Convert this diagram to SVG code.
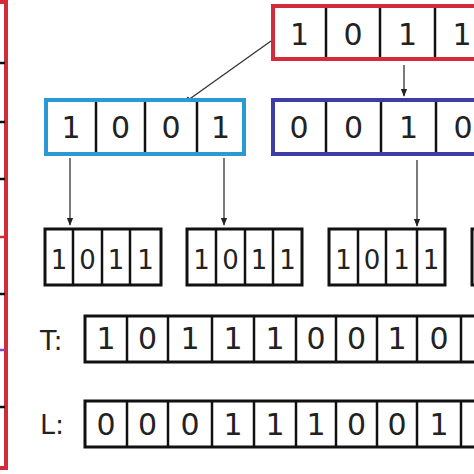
<svg xmlns="http://www.w3.org/2000/svg" width="474" height="474" viewBox="0 0 474 474">
<defs>
<style>
.d{font-family:"DejaVu Sans","Liberation Sans",sans-serif;fill:#222;text-anchor:middle}
.big{font-size:30px}
.sm{font-size:26px}
.lab{font-family:"DejaVu Sans","Liberation Sans",sans-serif;fill:#222;font-size:27px}
.red{fill:#fff;stroke:#d22b3a;stroke-width:4}
.blue{fill:#fff;stroke:#2b9ad4;stroke-width:4}
.pur{fill:#fff;stroke:#3d3da6;stroke-width:4}
.blk{fill:#fff;stroke:#111;stroke-width:3}
.div{stroke:#111;stroke-width:2.5}
.con{stroke:#333;stroke-width:1.3;fill:none}
</style>
<marker id="ah" viewBox="0 0 10 10" refX="9" refY="5" markerWidth="8" markerHeight="8" orient="auto" markerUnits="userSpaceOnUse">
<path d="M0,1 L10,5 L0,9 z" fill="#222"/>
</marker>
</defs>
<rect width="474" height="474" fill="#fff"/>

<g id="leftbar">
<path d="M-2,2 H6 V468 H-2" fill="none" stroke="#d22b3a" stroke-width="4"/>
<g stroke="#111" stroke-width="2.5">
<line x1="0" y1="63" x2="5" y2="63"/>
<line x1="0" y1="122" x2="5" y2="122"/>
<line x1="0" y1="179" x2="5" y2="179"/>
<line x1="0" y1="294" x2="5" y2="294"/>
<line x1="0" y1="407" x2="5" y2="407"/>
</g>
<line x1="0" y1="237" x2="5" y2="237" stroke="#d22b3a" stroke-width="2.5"/>
<line x1="0" y1="350" x2="5" y2="350" stroke="#8a4aa8" stroke-width="2.5"/>
</g>

<g id="connectors">
<line class="con" x1="271" y1="41" x2="184" y2="103" marker-end="url(#ah)"/>
<line class="con" x1="404" y1="65" x2="404" y2="96" marker-end="url(#ah)"/>
<line class="con" x1="70" y1="158" x2="70" y2="225" marker-end="url(#ah)"/>
<line class="con" x1="224" y1="158" x2="224" y2="225" marker-end="url(#ah)"/>
<line class="con" x1="417" y1="160" x2="417" y2="226" marker-end="url(#ah)"/>
</g>

<g id="red-box">
<rect class="red" x="273" y="6" width="230" height="53"/>
<line class="div" x1="326" y1="8" x2="326" y2="57"/>
<line class="div" x1="380" y1="8" x2="380" y2="57"/>
<line class="div" x1="435" y1="8" x2="435" y2="57"/>
<text class="d big" x="299.5" y="45">1</text>
<text class="d big" x="353" y="45">0</text>
<text class="d big" x="407.5" y="45">1</text>
<text class="d big" x="462" y="45">1</text>
</g>

<g id="blue-box">
<rect class="blue" x="46" y="100" width="198" height="54"/>
<line class="div" x1="96" y1="102" x2="96" y2="152"/>
<line class="div" x1="145" y1="102" x2="145" y2="152"/>
<line class="div" x1="197" y1="102" x2="197" y2="152"/>
<text class="d big" x="71" y="138">1</text>
<text class="d big" x="120.5" y="138">0</text>
<text class="d big" x="171" y="138">0</text>
<text class="d big" x="220.5" y="138">1</text>
</g>

<g id="purple-box">
<rect class="pur" x="273" y="100" width="230" height="54"/>
<line class="div" x1="326" y1="102" x2="326" y2="152"/>
<line class="div" x1="381" y1="102" x2="381" y2="152"/>
<line class="div" x1="436" y1="102" x2="436" y2="152"/>
<text class="d big" x="299" y="138">0</text>
<text class="d big" x="353.5" y="138">0</text>
<text class="d big" x="408.5" y="138">1</text>
<text class="d big" x="463" y="138">0</text>
</g>

<g id="small-1">
<rect class="blk" x="45" y="229" width="116" height="56"/>
<line class="div" x1="73" y1="229" x2="73" y2="285"/>
<line class="div" x1="102" y1="229" x2="102" y2="285"/>
<line class="div" x1="130" y1="229" x2="130" y2="285"/>
<text class="d sm" x="59" y="269">1</text>
<text class="d sm" x="87.5" y="269">0</text>
<text class="d sm" x="116" y="269">1</text>
<text class="d sm" x="145.5" y="269">1</text>
</g>

<g id="small-2">
<rect class="blk" x="187" y="229" width="115" height="56"/>
<line class="div" x1="216" y1="229" x2="216" y2="285"/>
<line class="div" x1="245" y1="229" x2="245" y2="285"/>
<line class="div" x1="273" y1="229" x2="273" y2="285"/>
<text class="d sm" x="201.5" y="269">1</text>
<text class="d sm" x="230.5" y="269">0</text>
<text class="d sm" x="259" y="269">1</text>
<text class="d sm" x="287.5" y="269">1</text>
</g>

<g id="small-3">
<rect class="blk" x="329" y="229" width="116" height="56"/>
<line class="div" x1="358" y1="229" x2="358" y2="285"/>
<line class="div" x1="386" y1="229" x2="386" y2="285"/>
<line class="div" x1="417" y1="229" x2="417" y2="285"/>
<text class="d sm" x="343.5" y="269">1</text>
<text class="d sm" x="372" y="269">0</text>
<text class="d sm" x="401.5" y="269">1</text>
<text class="d sm" x="431" y="269">1</text>
</g>

<g id="small-4">
<rect class="blk" x="472" y="229" width="116" height="56" stroke-width="4"/>
</g>

<g id="T-row">
<text class="lab" x="40" y="350">T:</text>
<rect class="blk" x="85" y="316" width="420" height="46"/>
<g class="div">
<line x1="127" y1="316" x2="127" y2="362"/>
<line x1="168" y1="316" x2="168" y2="362"/>
<line x1="212" y1="316" x2="212" y2="362"/>
<line x1="254" y1="316" x2="254" y2="362"/>
<line x1="296" y1="316" x2="296" y2="362"/>
<line x1="336" y1="316" x2="336" y2="362"/>
<line x1="377" y1="316" x2="377" y2="362"/>
<line x1="417" y1="316" x2="417" y2="362"/>
<line x1="461" y1="316" x2="461" y2="362"/>
</g>
<text class="d big" x="106" y="349">1</text>
<text class="d big" x="147.5" y="349">0</text>
<text class="d big" x="190" y="349">1</text>
<text class="d big" x="233" y="349">1</text>
<text class="d big" x="275" y="349">1</text>
<text class="d big" x="316" y="349">0</text>
<text class="d big" x="356.5" y="349">0</text>
<text class="d big" x="397" y="349">1</text>
<text class="d big" x="439" y="349">0</text>
</g>

<g id="L-row">
<text class="lab" x="40" y="434">L:</text>
<rect class="blk" x="85" y="401" width="420" height="46"/>
<g class="div">
<line x1="127" y1="401" x2="127" y2="447"/>
<line x1="168" y1="401" x2="168" y2="447"/>
<line x1="212" y1="401" x2="212" y2="447"/>
<line x1="254" y1="401" x2="254" y2="447"/>
<line x1="296" y1="401" x2="296" y2="447"/>
<line x1="336" y1="401" x2="336" y2="447"/>
<line x1="377" y1="401" x2="377" y2="447"/>
<line x1="417" y1="401" x2="417" y2="447"/>
<line x1="461" y1="401" x2="461" y2="447"/>
</g>
<text class="d big" x="106" y="435">0</text>
<text class="d big" x="147.5" y="435">0</text>
<text class="d big" x="190" y="435">0</text>
<text class="d big" x="233" y="435">1</text>
<text class="d big" x="275" y="435">1</text>
<text class="d big" x="316" y="435">1</text>
<text class="d big" x="356.5" y="435">0</text>
<text class="d big" x="397" y="435">0</text>
<text class="d big" x="439" y="435">1</text>
</g>
</svg>
